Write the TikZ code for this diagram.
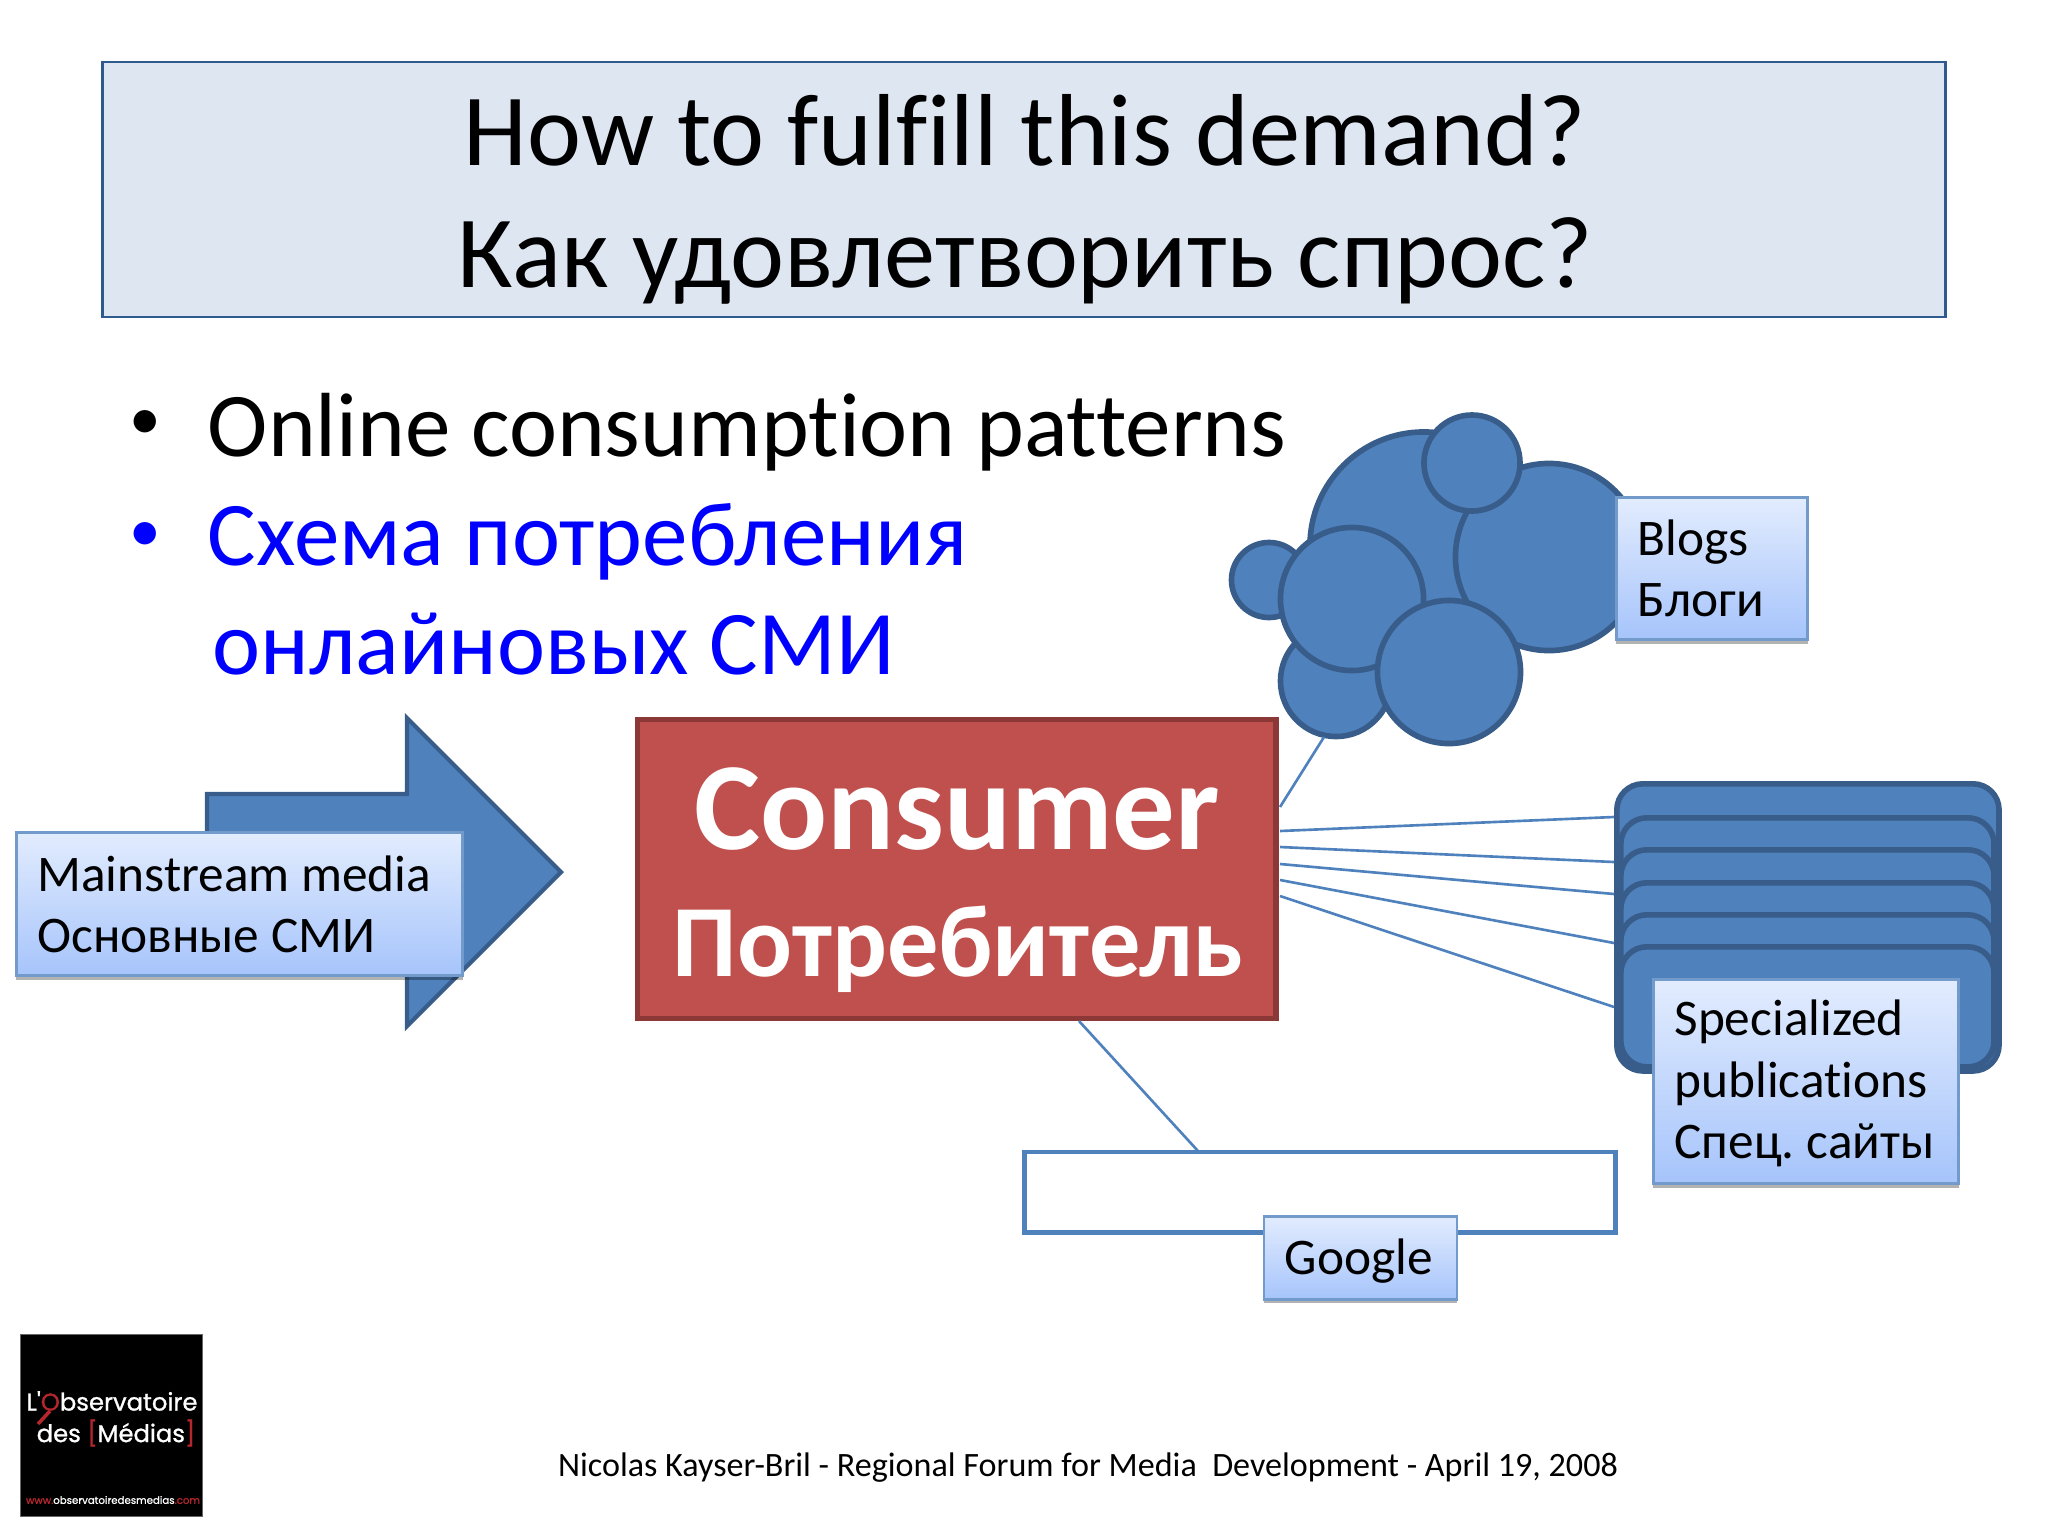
\documentclass[tikz,border=0pt]{standalone}
\usepackage{fontspec}
\setmainfont[Ligatures=NoCommon]{Carlito}
\newfontfamily\logofont[FakeBold=1]{Poppins}
\usetikzlibrary{shadows}
\definecolor{titlefill}{HTML}{DEE6F2}
\definecolor{titleline}{HTML}{2F5A8E}
\definecolor{blobfill}{HTML}{4F81BD}
\definecolor{blobline}{HTML}{385D8A}
\definecolor{consumerfill}{HTML}{C0504D}
\definecolor{consumerline}{HTML}{8C3836}
\definecolor{labeltop}{HTML}{E2ECFE}
\definecolor{labelbottom}{HTML}{A6C4FB}
\definecolor{logored}{HTML}{B5272D}
\tikzset{
  blob/.style={circle, draw=blobline, fill=blobfill, line width=1.6pt, inner sep=0pt},
  stackbox/.style={rectangle, rounded corners=.26cm, draw=blobline, fill=blobfill, line width=1.6pt, anchor=north west},
  labelbox/.style={rectangle, draw=blobfill!80!white, line width=.8pt, top color=labeltop, bottom color=labelbottom,
    anchor=north west, align=flush left, inner xsep=.21cm, inner ysep=0pt, font=\fontsize{14.6}{17.4}\selectfont\frenchspacing,
    drop shadow={shadow xshift=0cm, shadow yshift=-.04cm, opacity=.3, fill=black}},
  wire/.style={blobfill, line width=.75pt},
  bodytext/.style={anchor=base west, inner sep=0pt, font=\fontsize{25.9}{31}\selectfont},
  bullettext/.style={inner sep=0pt, font=\fontsize{18}{20}\selectfont},
  logotext/.style={white, inner sep=0pt}
}
\begin{document}
\begin{tikzpicture}[x=.01cm, y=-.01cm]
	\useasboundingbox (0,0) rectangle (2048,1536);
	% title
	\node[draw=titleline, fill=titlefill, line width=.8pt, minimum width=18.42cm, minimum height=2.55cm] (title) at (1024,189.5) {};
	\node[inner sep=0pt, align=center, font=\fontsize{29.1}{34.7}\selectfont] (titleText) at (1025,199) {How to fulfill this demand?\\Как удовлетворить спрос?};
	% bullets
	\node[bullettext] (bulletA) at (145,425) {•};
	\node[bodytext] (onlineEn) at (207,456) {Online consumption patterns};
	\node[bullettext, blue] (bulletB) at (145,537) {•};
	\node[bodytext, blue] (onlineRuA) at (207,565) {Схема потребления};
	\node[bodytext, blue] (onlineRuB) at (212,674) {онлайновых СМИ};
	% arrow
	\draw[blobline, fill=blobfill, line width=1.2pt] (207,794) -- (407,794) -- (407,718) -- (561,872) -- (407,1026) -- (407,950) -- (207,950) -- cycle;
	\node[labelbox, text width=4.04cm, minimum height=1.43cm] (mainstream) at (15,831) {Mainstream media\\Основные СМИ};
	% consumer
	\node[draw=consumerline, fill=consumerfill, line width=1.6pt, minimum width=6.38cm, minimum height=2.99cm] (consumer) at (956.5,869) {};
	\node[white, inner sep=0pt, font=\bfseries\fontsize{35.5}{40}\selectfont] (consumerEn) at (957,809) {Consumer};
	\node[white, inner sep=0pt, font=\bfseries\fontsize{29.1}{32}\selectfont] (consumerRu) at (958,949) {Потребитель};
	% blogs cloud
	\node[blob, minimum size=2.28cm] (blobA) at (1424,546) {};
	\node[blob, minimum size=1.87cm] (blobB) at (1549,557) {};
	\node[blob, minimum size=.96cm] (blobC) at (1472,463) {};
	\node[blob, minimum size=.75cm] (blobD) at (1269,580) {};
	\node[blob, minimum size=1.11cm] (blobE) at (1336,681) {};
	\node[blob, minimum size=1.43cm] (blobF) at (1352,599) {};
	\node[blob, minimum size=1.43cm] (blobG) at (1449,672) {};
	\node[labelbox, text width=1.49cm, minimum height=1.42cm] (blogs) at (1615,496) {Blogs\\Блоги};
	% publications stack
	\node[stackbox, minimum width=3.82cm, minimum height=2.87cm] (stackA) at (1614,781) {};
	\node[stackbox, minimum width=3.73cm, minimum height=2.49cm] (stackB) at (1618,815) {};
	\node[stackbox, minimum width=3.73cm, minimum height=2.17cm] (stackC) at (1618,847) {};
	\node[stackbox, minimum width=3.73cm, minimum height=1.84cm] (stackD) at (1618,880) {};
	\node[stackbox, minimum width=3.73cm, minimum height=1.52cm] (stackE) at (1618,912) {};
	\node[stackbox, minimum width=3.73cm, minimum height=1.20cm] (stackF) at (1618,944) {};
	\node[labelbox, text width=2.63cm, minimum height=2.04cm, text depth=36.1pt] (publications) at (1652,978) {Specialized\\publications\\Спец. сайты};
	% search bar
	\node[draw=blobfill, fill=white, line width=1.4pt, minimum width=5.90cm, minimum height=.8cm] (searchbar) at (1320,1192) {};
	\node[labelbox, text width=1.51cm, minimum height=.83cm, text depth=1pt] (google) at (1262.5,1215) {Google};
	% wires
	\coordinate (wireBlog) at (1280,807);
	\coordinate (blogEnd) at (1324,737);
	\coordinate (wireA) at (1280,831);
	\coordinate (pubA) at (1614,817);
	\coordinate (wireB) at (1280,847);
	\coordinate (pubB) at (1614,862);
	\coordinate (wireC) at (1280,864);
	\coordinate (pubC) at (1614,894);
	\coordinate (wireD) at (1280,880);
	\coordinate (pubD) at (1614,943);
	\coordinate (wireE) at (1280,896);
	\coordinate (pubE) at (1614,1007);
	\coordinate (wireF) at (1079,1021);
	\coordinate (searchEnd) at (1198,1151);
	\draw[wire] (wireBlog) -- (blogEnd);
	\draw[wire] (wireA) -- (pubA);
	\draw[wire] (wireB) -- (pubB);
	\draw[wire] (wireC) -- (pubC);
	\draw[wire] (wireD) -- (pubD);
	\draw[wire] (wireE) -- (pubE);
	\draw[wire] (wireF) -- (searchEnd);
	% logo
	\node[fill=black, draw=black!60, line width=.3pt, minimum width=1.82cm, minimum height=1.82cm] (logo) at (111.5,1425.5) {};
	\node[logotext, font=\logofont\fontsize{6.9}{8}\selectfont] (logoA) at (112,1401) {L'{\color{logored}O}bservatoire};
	\node[logotext, font=\logofont\fontsize{6.9}{8}\selectfont] (logoB) at (116,1433) {des {\color{logored}[}Médias{\color{logored}]}};
	\node[logotext, font=\logofont\fontsize{2.9}{4}\selectfont] (logoC) at (113,1500) {{\color{logored}www.}observatoiredesmedias{\color{logored}.com}};
	\coordinate (lensA) at (50,1411);
	\coordinate (lensB) at (38,1424);
	\draw[logored, line width=1pt] (lensA) -- (lensB);
	% footer
	\node[inner sep=0pt, font=\fontsize{9.7}{11}\selectfont] (footer) at (1088,1468) {Nicolas Kayser-Bril - Regional Forum for Media\ \ Development - April 19, 2008};
\end{tikzpicture}
\end{document}
